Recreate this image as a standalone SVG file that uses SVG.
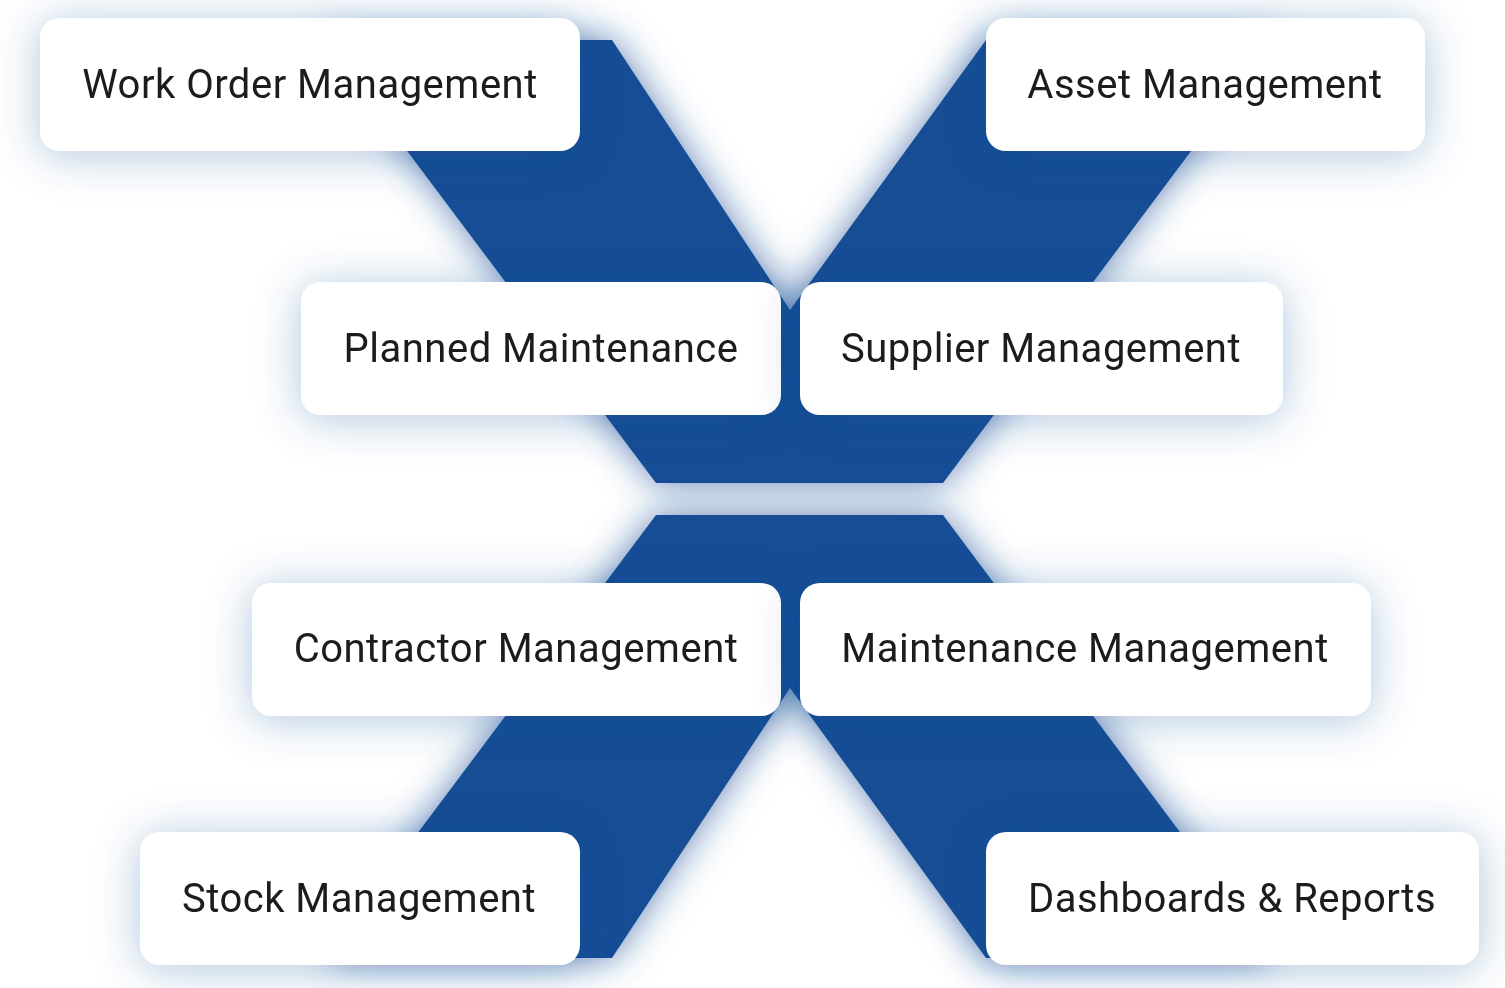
<svg xmlns="http://www.w3.org/2000/svg" width="1505" height="988" viewBox="0 0 1505 988">
  <defs>
    <filter id="glow" x="-30%" y="-30%" width="160%" height="160%">
      <feDropShadow dx="0" dy="0" stdDeviation="18" flood-color="#1d4f96" flood-opacity="0.7"/>
    </filter>
    <filter id="boxShadow" x="-25%" y="-60%" width="150%" height="220%">
      <feDropShadow dx="0" dy="4" stdDeviation="22" flood-color="#1d4f96" flood-opacity="0.32"/>
    </filter>
  </defs>
  <style>
    .band { fill: #164D95; }
    .box { fill: #FFFFFF; }
    .label { font-family: Roboto, "Liberation Sans", sans-serif; font-size: 40px; letter-spacing: 0.5px; fill: #1A1A1A; text-anchor: middle; }
  </style>
  <rect x="0" y="0" width="1505" height="988" fill="#FFFFFF"/>

  <g id="connectors">
    <polygon class="band" filter="url(#glow)" points="324,40 612,40 790,310 986,40 1274,40 943,483 656,483"/>
    <polygon class="band" filter="url(#glow)" points="324,958 612,958 790,688 986,958 1274,958 943,515 656,515"/>
  </g>

  <g id="work-order-management" filter="url(#boxShadow)">
    <rect class="box" x="40" y="18" width="540" height="133" rx="20"/>
    <text class="label" x="310" y="98">Work Order Management</text>
  </g>
  <g id="asset-management" filter="url(#boxShadow)">
    <rect class="box" x="986" y="18" width="439" height="133" rx="20"/>
    <text class="label" x="1205" y="98">Asset Management</text>
  </g>
  <g id="planned-maintenance" filter="url(#boxShadow)">
    <rect class="box" x="301" y="282" width="480" height="133" rx="20"/>
    <text class="label" x="541" y="362">Planned Maintenance</text>
  </g>
  <g id="supplier-management" filter="url(#boxShadow)">
    <rect class="box" x="800" y="282" width="483" height="133" rx="20"/>
    <text class="label" x="1041" y="362">Supplier Management</text>
  </g>
  <g id="contractor-management" filter="url(#boxShadow)">
    <rect class="box" x="252" y="583" width="529" height="133" rx="20"/>
    <text class="label" x="516" y="662">Contractor Management</text>
  </g>
  <g id="maintenance-management" filter="url(#boxShadow)">
    <rect class="box" x="800" y="583" width="571" height="133" rx="20"/>
    <text class="label" x="1085" y="662">Maintenance Management</text>
  </g>
  <g id="stock-management" filter="url(#boxShadow)">
    <rect class="box" x="140" y="832" width="440" height="133" rx="20"/>
    <text class="label" x="359" y="912">Stock Management</text>
  </g>
  <g id="dashboards-reports" filter="url(#boxShadow)">
    <rect class="box" x="986" y="832" width="493" height="133" rx="20"/>
    <text class="label" x="1232" y="912">Dashboards &amp; Reports</text>
  </g>
</svg>
